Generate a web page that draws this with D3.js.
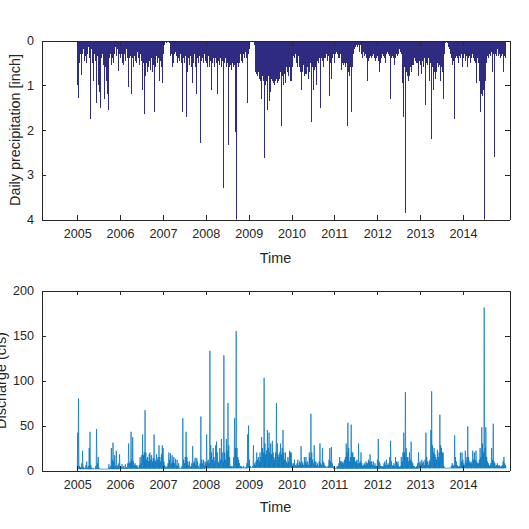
<!DOCTYPE html>
<html>
<head>
<meta charset="utf-8">
<script src="https://cdn.jsdelivr.net/npm/d3@7"></script>
<style>
  html, body { margin: 0; padding: 0; background: #fff; }
  svg { display: block; font-family: "Liberation Sans", Arial, Helvetica, sans-serif; }
</style>
</head>
<body>
<svg id="chart" width="529" height="529"></svg>
<script>
'use strict';

// weekly max daily precipitation [inch], one array per year (week 0 = 1 Jan 2005)
var p2005 = [1.0,1.28,0.5,0.3,0.4,0.78,0.3,0.2,0.45,0.35,0.25,0.5,0.3,0.15,0.4,1.75,0.3,0.2,0.5,0.9,0.3,0.45,0.2,1.4,0.35,1.0,0.6,1.15,1.5,0.4,0.3,0.55,1.3,0.4,0.6,0.9,1.2,0.5,1.56,0.4,0.3,0.55,0.4,0.2,0.5,0.3,0.15,0.35,0.2,0.4,0.68,0.3];
var p2006 = [0.4,0.3,0.5,0.35,0.55,0.3,0.45,0.2,0.4,0.3,1.05,0.4,0.35,1.2,0.5,0.4,0.6,0.35,0.45,0.3,0.5,0.25,0.4,0.55,0.3,0.45,0.35,1.1,0.5,1.65,0.6,0.8,0.5,0.7,0.6,0.45,0.65,0.5,0.4,0.7,0.55,1.6,0.4,0.6,0.35,0.5,0.4,0.3,0.9,0.45,0.6,0.95];
var p2007 = [0.3,0.1,0,0,0.05,0,0,0,0.05,0.35,0.3,0.6,0.4,0.5,0.3,0.25,0.35,0.5,0.3,0.4,0.45,0.3,0.5,0.4,1.6,0.4,0.5,0.35,1.7,0.5,0.7,0.4,0.55,0.35,0.6,0.4,0.95,0.5,0.3,0.6,0.45,1.2,0.4,0.5,0.35,0.6,2.3,0.45,0.4,0.5,0.3,0.45];
var p2008 = [0.4,0.5,0.6,0.35,0.6,0.45,0.3,1.1,0.5,0.4,0.6,0.55,0.4,0.5,1.2,0.45,0.5,0.55,0.4,0.6,0.45,0.5,3.3,0.5,0.4,0.6,0.5,0.45,2.33,0.6,0.55,0.65,0.5,0.6,0.45,0.55,2.05,4.0,0.5,0.4,0.6,0.5,0.3,0.45,0.35,0.5,0.3,0.4,0.25,0.4,0.3,1.4];
var p2009 = [0.3,0.2,0,0,0,0,0,0.1,0.6,0.7,0.75,0.8,0.7,0.85,0.75,0.9,1.3,0.8,0.9,2.62,1.0,0.85,0.9,1.55,0.8,1.35,0.9,1.15,0.85,0.9,0.95,0.85,1.0,0.9,0.85,0.95,0.8,0.9,0.85,0.7,1.9,0.8,1.0,0.7,0.75,0.95,0.6,0.7,0.65,0.8,0.6,0.9];
var p2010 = [0.9,0.5,0.6,0.35,0.4,0.3,0.5,0.6,0.45,0.35,0.6,0.7,1.1,0.6,0.7,0.55,0.8,0.75,0.7,0.75,0.6,0.85,0.7,0.5,1.83,0.5,0.6,1.1,0.65,0.5,0.6,1.0,0.45,0.5,0.4,0.55,1.5,0.4,0.45,0.6,0.35,0.4,0.4,0.3,0.45,0.35,0.5,1.25,0.5,0.85,0.4,0.3];
var p2011 = [0.35,0.5,0.3,0.25,0.3,0.4,0.35,0.4,0.3,0.65,0.5,0.55,0.45,0.5,0.6,0.5,0.6,1.9,0.7,0.8,0.6,1.6,0.5,0.6,0.3,0.2,0.15,0.1,0.05,0.15,0.1,0.25,0.1,0.2,0.3,0.4,0.25,0.35,0.3,0.4,0.35,0.9,0.45,0.4,0.3,0.35,0.4,0.35,0.3,0.4,0.35,0.45];
var p2012 = [0.4,0.35,0.45,0.7,0.5,0.35,0.4,0.3,0.35,0.3,0.4,0.5,0.3,0.25,0.3,0.35,0.3,1.3,0.4,0.35,0.4,0.3,0.55,0.4,0.3,0.35,0.3,0.25,0.2,0.25,0.3,0.95,0.5,1.7,0.6,3.85,0.7,0.8,0.6,0.9,0.8,0.6,0.7,0.55,0.5,0.55,0.4,0.45,0.5,0.35,0.5,0.8];
var p2013 = [0.45,0.55,0.4,0.75,0.45,0.6,0.4,0.5,1.45,0.5,0.55,0.4,0.9,0.5,0.45,2.2,0.6,1.1,0.7,0.85,0.6,0.7,0.5,0.6,0.5,0.55,0.9,0.6,0.7,1.3,0.3,0.1,0.05,0,0.05,0.1,0.15,0.2,0.3,0.4,0.55,0.35,0.45,1.75,0.4,0.35,0.4,0.3,0.5,0.35,0.4,0.3];
var p2014 = [0.35,0.6,0.4,0.3,0.45,0.35,0.5,0.6,0.4,0.35,0.5,0.4,0.35,0.3,0.4,0.45,0.5,0.95,0.45,0.4,0.5,0.9,1.6,1.2,0.85,1.25,1.1,4.0,0.7,0.9,0.5,0.35,0.4,0.3,0.35,0.3,0.25,0.7,0.3,2.6,0.35,0.3,0.35,0.2,0.35,0.3,0.2,0.4,0.35,0.3,0.7,0.35,0.3,0.4];

// weekly peak discharge [cfs]
var q2005 = [42,80,5,4,3,8,22,4,3,2,6,10,3,5,25,43,6,3,2,3,2,2,5,46,8,15,3,2,1.5,1.5,1,1,1.5,1,1,1.5,1,2,7,3,5,25,12,31,10,17,5,22,6,4,8,18];
var q2006 = [5,4,7,3,5,3,7,4,3,8,30,8,10,43,12,37,10,6,8,5,6,4,3,6,15,8,17,40,17,20,67,20,12,15,10,18,20,12,17,10,14,40,12,10,18,12,15,28,15,10,18,28];
var q2007 = [25,10,6,4,3,5,8,20,12,19,8,17,10,15,8,13,6,12,5,8,3,2,3,5,58,12,8,15,43,15,10,6,10,4,5,8,27,8,10,14,6,14,10,5,3,8,60,12,8,12,5,10];
var q2008 = [8,40,10,12,8,133,28,20,12,25,15,10,28,32,20,10,8,25,12,35,20,10,128,20,12,35,22,75,28,15,5,5,3,5,15,58,25,155,25,15,12,8,5,5,4,3,5,3,2,4,8,40];
var q2009 = [50,12,5,3,3,5,28,8,6,10,20,12,15,10,20,15,37,25,20,103,30,18,22,45,25,42,20,30,18,33,20,15,12,20,75,30,18,15,20,30,18,25,45,20,12,20,10,8,15,10,22,20];
var q2010 = [20,8,5,8,12,6,5,8,12,6,10,8,27,10,8,6,15,10,15,8,10,6,20,15,63,20,12,8,28,10,10,6,8,5,10,30,8,6,25,10,8,5,5,3,4,5,12,25,10,26,8,5];
var q2011 = [3,3,2,3,5,4,8,15,10,10,8,10,8,12,15,30,20,53,25,10,15,51,20,20,15,15,10,10,12,8,30,8,10,20,8,5,6,8,6,10,8,8,12,10,18,10,10,6,10,5,8,5];
var q2012 = [5,12,35,10,8,5,5,4,5,8,10,6,12,6,8,6,15,33,10,5,6,8,5,15,10,8,10,5,4,5,15,10,20,42,20,87,25,15,15,10,20,12,32,10,8,5,5,3,4,5,8,20];
var q2013 = [8,10,6,12,8,10,6,12,42,15,10,6,10,12,45,88,28,20,25,18,15,12,23,15,20,62,28,25,20,20,5,3,2,2,2,3,2,3,3,5,8,6,5,39,15,10,6,5,4,5,20,10];
var q2014 = [20,12,8,6,22,10,15,49,15,10,8,10,8,22,12,20,12,22,10,8,8,12,25,15,48,30,20,181,25,48,15,10,8,6,5,8,25,12,52,10,8,5,6,8,5,6,5,4,5,6,10,15,8,6];
// base flow between events, per year [cfs]
var qBase = [1.5,2,2,2.5,3,3,2,2,2.5,2.5];

var years = [2005,2006,2007,2008,2009,2010,2011,2012,2013,2014];
var yearLabels = ["2005","2006","2007","2008","2009","2010","2011","2012","2013","2014"];
var precipTicks = [0,1,2,3,4];
var dischargeTicks = [0,50,100,150,200];

var svg = d3.select("#chart");
var ink = "#262626";
var start = new Date(Date.UTC(2005,0,1));
var left = 41.5, right = 509.5;
var top1 = 40.5, bot1 = 219.5, top2 = 290.5, bot2 = 470.5;
var tick = 4.7;

var pYears = [p2005,p2006,p2007,p2008,p2009,p2010,p2011,p2012,p2013,p2014];
var qYears = [q2005,q2006,q2007,q2008,q2009,q2010,q2011,q2012,q2013,q2014];
var precip = [].concat.apply([], pYears);
var flow = [];
qYears.forEach(function(arr, k) {
  arr.forEach(function(v) { flow.push({peak: v, base: qBase[k]}); });
});

function weekDate(i) { return d3.utcDay.offset(start, 7*i); }

var x = d3.scaleUtc()
  .domain([new Date(Date.UTC(2004,2,2)), new Date(Date.UTC(2015,1,2))])
  .range([left, right]);
var yP = d3.scaleLinear().domain([0,4]).range([top1, bot1]);
var yQ = d3.scaleLinear().domain([0,200]).range([bot2, top2]);
var yearDates = years.map(function(y){ return new Date(Date.UTC(y,0,1)); });

var defs = svg.append("defs");
defs.append("clipPath").attr("id","clipP").append("rect")
  .attr("x",left).attr("y",top1).attr("width",right-left).attr("height",bot1-top1);
defs.append("clipPath").attr("id","clipQ").append("rect")
  .attr("x",left).attr("y",top2).attr("width",right-left).attr("height",bot2-top2);

// precipitation bars hanging from the top
svg.append("g").attr("clip-path","url(#clipP)")
  .selectAll("rect").data(precip).enter().append("rect")
  .attr("x", function(d,i){ return x(weekDate(i)); })
  .attr("width", function(d,i){ return Math.max(1, x(weekDate(i+1)) - x(weekDate(i))); })
  .attr("y", yP(0))
  .attr("height", function(d){ return yP(d) - yP(0); })
  .attr("shape-rendering", "crispEdges")
  .style("fill", "#2e2b80");

// discharge line
var pts = [];
flow.forEach(function(d,i){
  pts.push([weekDate(i), d.base]);
  pts.push([d3.utcHour.offset(weekDate(i), 84), Math.max(d.peak, d.base)]);
});
pts.push([weekDate(flow.length), qBase[qBase.length-1]]);

svg.append("path").attr("clip-path","url(#clipQ)")
  .datum(pts)
  .attr("d", d3.line().x(function(d){ return x(d[0]); }).y(function(d){ return yQ(d[1]); }))
  .style("fill","none").style("stroke","#0072bd").style("stroke-width",0.7);

function frame(t, b, yScale, yTicks) {
  var gx = svg.append("g").attr("transform","translate(0,"+b+")")
    .call(d3.axisBottom(x).tickValues(yearDates)
      .tickFormat(function(d,i){ return yearLabels[i]; })
      .tickSizeInner(-tick).tickSizeOuter(0).tickPadding(10));
  var gt = svg.append("g").attr("transform","translate(0,"+t+")")
    .call(d3.axisTop(x).tickValues(yearDates).tickFormat("")
      .tickSizeInner(-tick).tickSizeOuter(0));
  var gy = svg.append("g").attr("transform","translate("+left+",0)")
    .call(d3.axisLeft(yScale).tickValues(yTicks).tickFormat(d3.format("d"))
      .tickSizeInner(-tick).tickSizeOuter(0).tickPadding(7.5));
  var gr = svg.append("g").attr("transform","translate("+right+",0)")
    .call(d3.axisRight(yScale).tickValues(yTicks).tickFormat("")
      .tickSizeInner(-tick).tickSizeOuter(0));
  [gx,gt,gy,gr].forEach(function(g){
    g.selectAll("path,line").style("stroke",ink).attr("shape-rendering","crispEdges");
    g.selectAll("text").style("fill",ink).style("font-size","12.6px")
      .style("font-family","'Liberation Sans', Arial, sans-serif");
  });
}
frame(top1, bot1, yP, precipTicks);
frame(top2, bot2, yQ, dischargeTicks);

function label(txt, tx, ty, rot) {
  svg.append("text").text(txt)
    .attr("transform","translate("+tx+","+ty+")"+(rot ? " rotate(-90)" : ""))
    .attr("text-anchor","middle")
    .style("font-size","14.4px").style("fill",ink);
}
label("Time", (left+right)/2, 263, false);
label("Time", (left+right)/2, 511.5, false);
label("Daily precipitation [inch]", 19.7, (top1+bot1)/2, true);
// the reference crops this label at the left edge of the figure
label("Discharge (cfs)", 6, (top2+bot2)/2, true);
</script>
</body>
</html>
